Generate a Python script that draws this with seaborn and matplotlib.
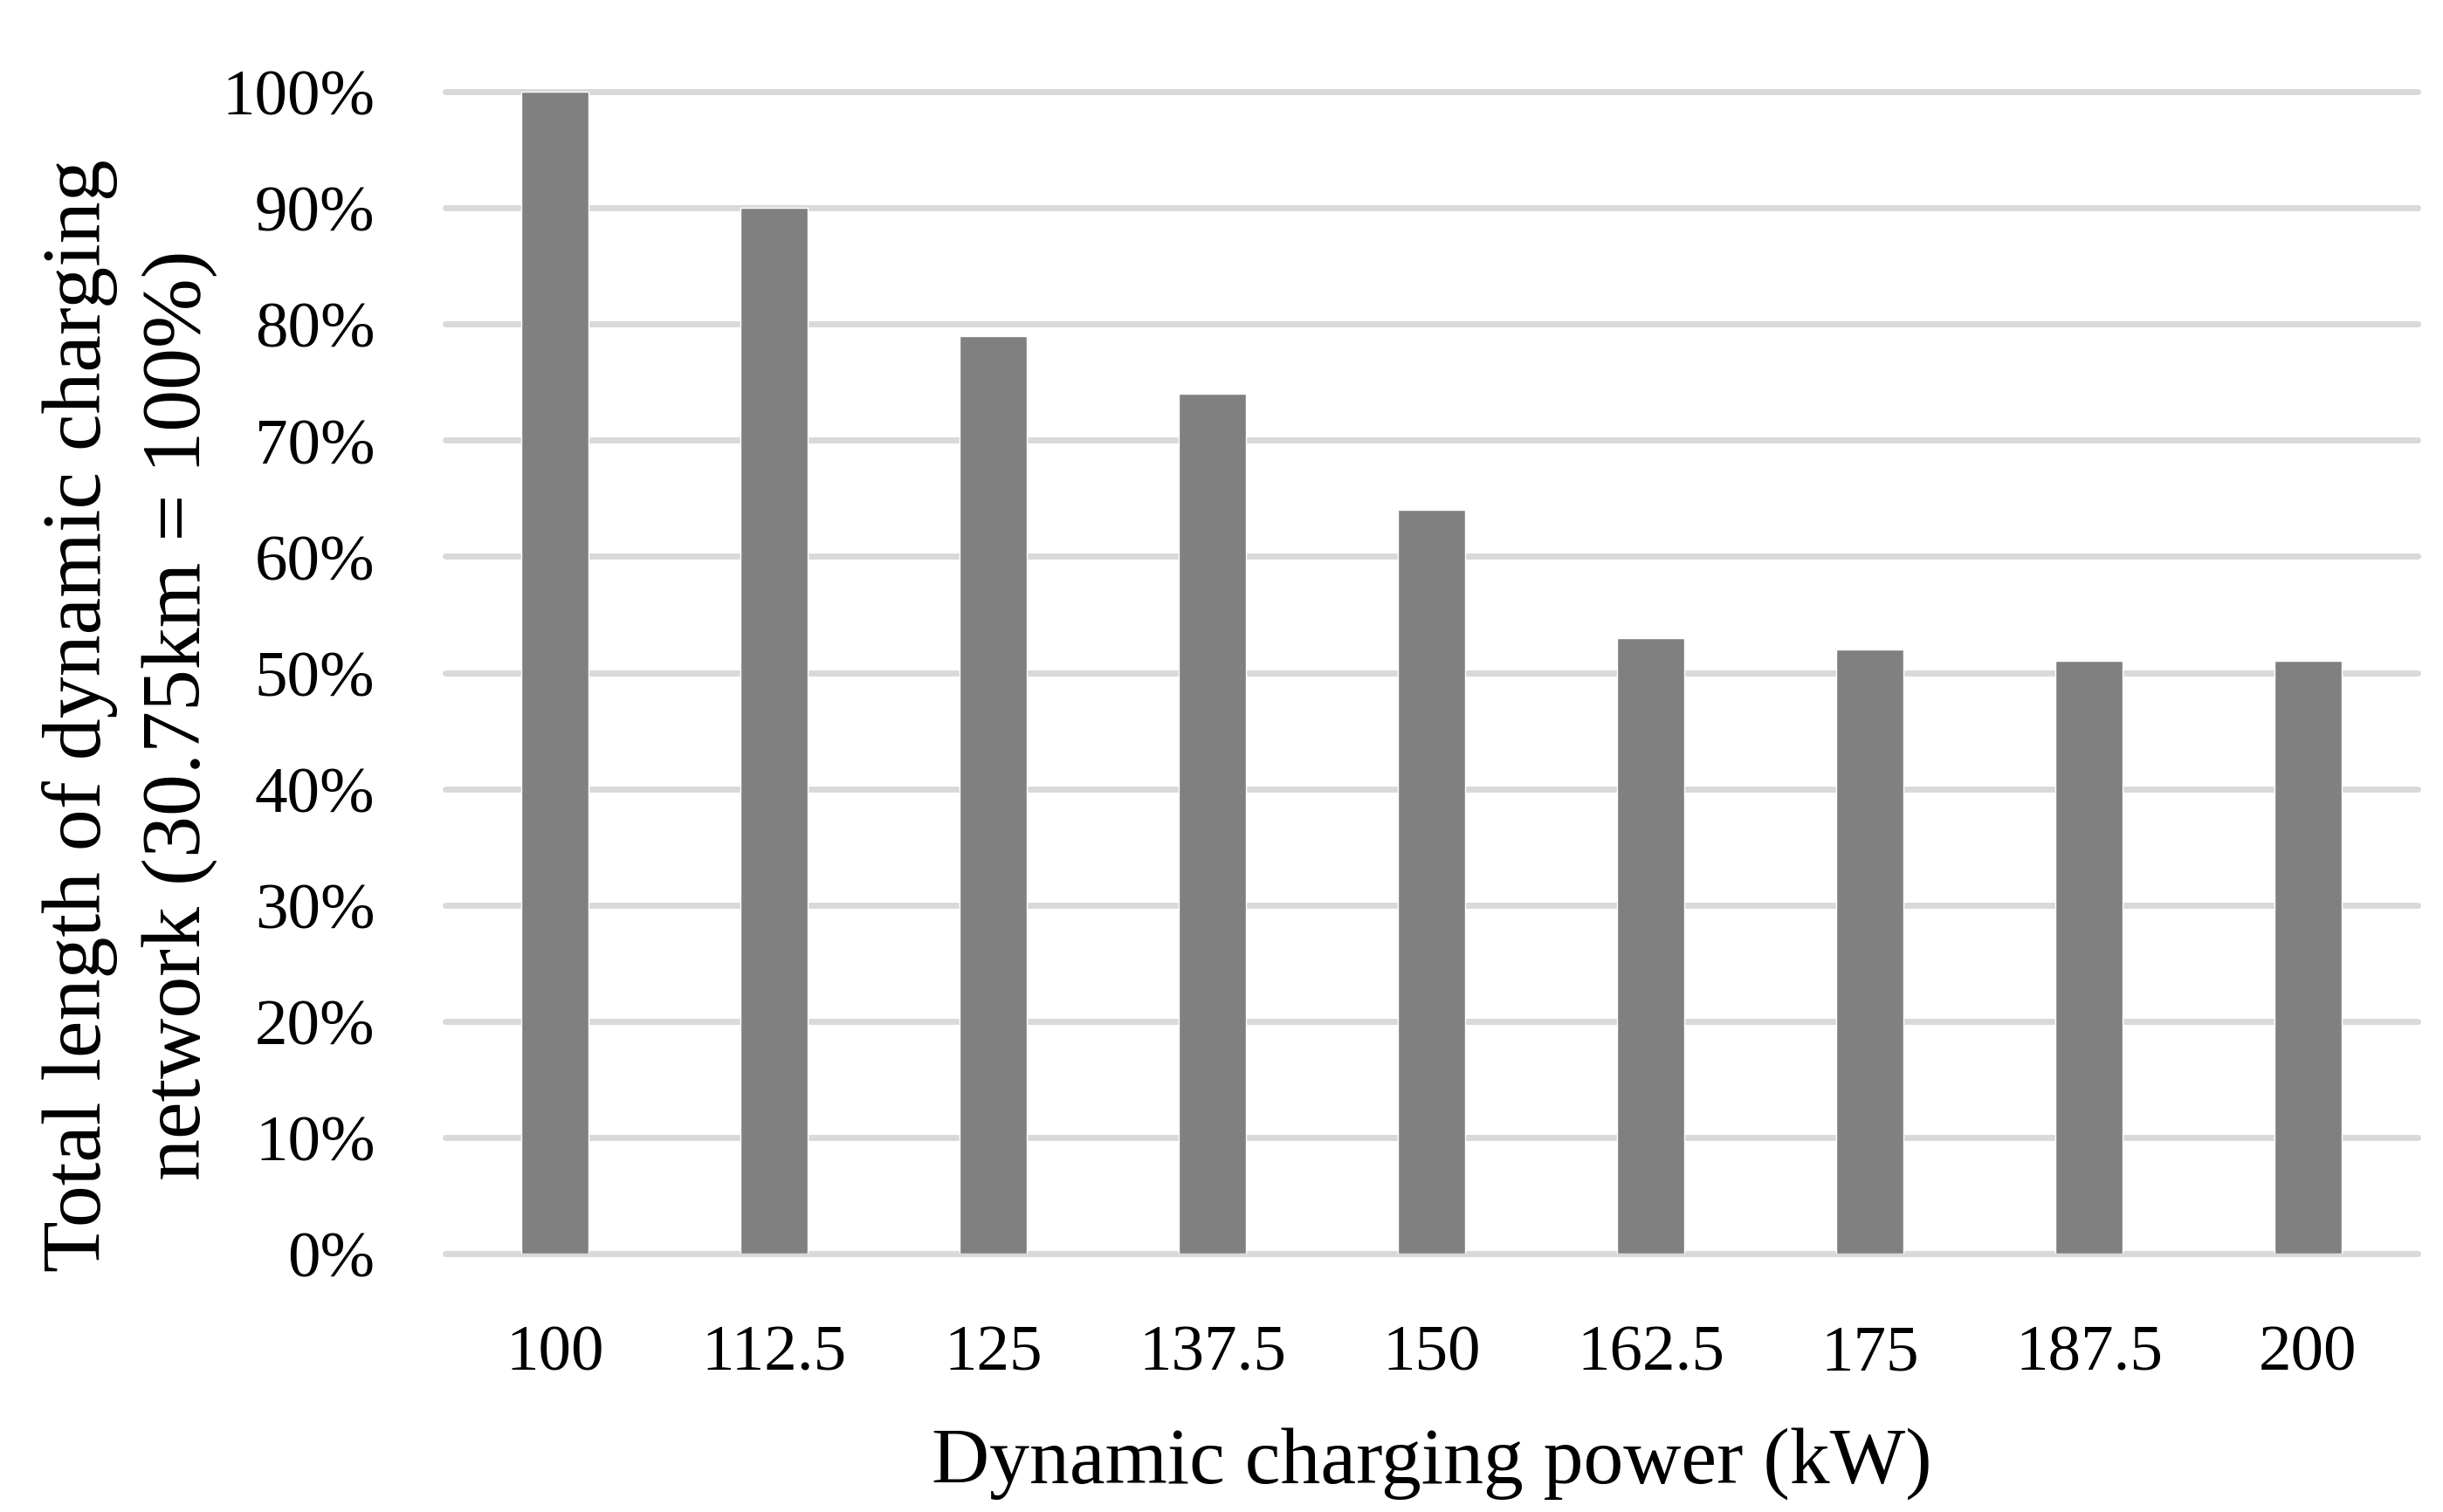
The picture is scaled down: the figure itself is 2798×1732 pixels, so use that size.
import matplotlib
matplotlib.use('Agg')
import matplotlib.pyplot as plt
from matplotlib.ticker import PercentFormatter
import seaborn as sns
import pandas as pd

# dynamic charging power (kW) and share of the full network length
power_kw = ['100', '112.5', '125', '137.5', '150', '162.5', '175', '187.5', '200']
length_pct = [100, 90, 79, 74, 64, 53, 52, 51, 51]
y_ticks = [0, 10, 20, 30, 40, 50, 60, 70, 80, 90, 100]

df = pd.DataFrame({'power': power_kw, 'length': length_pct})

sns.set_style('white')
plt.rcParams['font.family'] = ['Liberation Serif', 'DejaVu Serif']

fig = plt.figure(figsize=(27.98, 17.33), dpi=100)
ax = fig.add_axes([0.1823, 0.1708, 0.8073, 0.768])

sns.barplot(data=df, x='power', y='length', color='#808080', width=0.31,
            saturation=1, ax=ax, zorder=2)

ax.set_ylim(0, 100)
ax.set_xlim(-0.5, len(power_kw) - 0.5)
ax.set_yticks(y_ticks)
ax.yaxis.set_major_formatter(PercentFormatter(100, decimals=0))

ax.grid(axis='y', color='#d9d9d9', linewidth=5)
ax.set_axisbelow(True)
for line in ax.get_ygridlines():
    line.set_clip_on(False)
sns.despine(ax=ax, left=True, bottom=True, top=True, right=True)

ax.tick_params(axis='y', length=0, pad=58, labelsize=54, labelcolor='black')
ax.tick_params(axis='x', length=0, pad=58, labelsize=54, labelcolor='black')

ax.set_xlabel('Dynamic charging power (kW)', fontsize=66, labelpad=36,
              color='black')
ax.set_ylabel('Total length of dynamic charging\nnetwork (30.75km = 100%)',
              fontsize=69, va='center', linespacing=1.4, color='black')
ax.yaxis.set_label_coords(-0.16, 0.464)

fig.savefig('out.png', dpi=100, facecolor='white')
